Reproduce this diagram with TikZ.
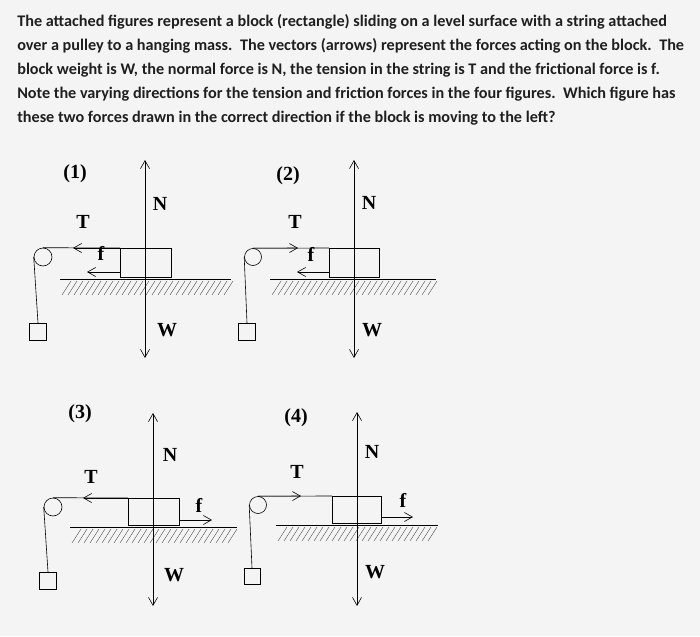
\documentclass[tikz,border=0pt]{standalone}
\usepackage{fontspec}
\setmainfont{Liberation Serif}
\newfontfamily\para{Carlito}
\usetikzlibrary{arrows.meta}
\begin{document}
\begin{tikzpicture}[x=1pt,y=-1pt,line width=0.6pt,
  lbl/.style={font=\bfseries\fontsize{20}{20}\selectfont},
  frc/.style={-{Straight Barb[length=8pt,width=9pt]}},
  ptxt/.style={anchor=base west,inner sep=0,font=\para\bfseries\fontsize{16.2}{18}\selectfont,text=black!88},
  blk/.style={draw}]
\fill[gray!9] (0,0) rectangle (700,636);
\useasboundingbox (0,0) rectangle (700,636);
\node[ptxt] (l1) at (17,27) {The attached figures represent a block (rectangle) sliding on a level surface with a string attached};
\node[ptxt] (l2) at (17,51) {over a pulley to a hanging mass.\, The vectors (arrows) represent the forces acting on the block.\, The};
\node[ptxt] (l3) at (17,75) {block weight is W, the normal force is N, the tension in the string is T and the frictional force is f.};
\node[ptxt] (l4) at (17,99) {Note the varying directions for the tension and friction forces in the four figures.\, Which figure has};
\node[ptxt] (l5) at (17,123) {these two forces drawn in the correct direction if the block is moving to the left?};
% ---------- figure 1
\draw (60,279) -- (231,279); \foreach \hx in {62,68,...,226}{\draw[gray!60!black,thin] (\hx,295) -- (\hx+9,281);}
\node[blk,minimum width=51pt,minimum height=29pt,anchor=north west] (b1) at (120,248) {};
\node[draw,circle,minimum size=18pt,inner sep=0] (p1) at (43,257) {};
\node[draw,minimum size=17pt,inner sep=0,anchor=north] (m1) at (38,323) {};
\draw (p1.west) -- (m1.north);
\coordinate (t1) at (73,248); \coordinate (f1) at (87,272);
\draw (p1.north) -- (b1.north west);
\draw[frc] (b1.north west) -- (t1);
\draw[frc] (120,272) -- (f1);
\coordinate (n1) at (145,160); \coordinate (w1) at (145,358);
\draw[frc] (145,263) -- (n1); \draw[frc] (145,263) -- (w1);
\node[lbl] at (75,174) {(1)}; \node[lbl] at (83,222) {T}; \node[lbl] at (101,253) {f};
\node[lbl] at (160,204) {N}; \node[lbl] at (167,330) {W};
% ---------- figure 2
\draw (270,279) -- (436,279); \foreach \hx in {272,278,...,430}{\draw[gray!60!black,thin] (\hx,295) -- (\hx+9,281);}
\node[blk,minimum width=50pt,minimum height=29pt,anchor=north west] (b2) at (329,248) {};
\node[draw,circle,minimum size=17pt,inner sep=0] (p2) at (253,257) {};
\node[draw,minimum size=17pt,inner sep=0,anchor=north] (m2) at (247,323) {};
\draw (p2.west) -- (m2.north);
\coordinate (t2) at (298,248); \coordinate (f2) at (297,272);
\draw (p2.north) -- (b2.north west);
\draw[frc] (p2.north) -- (t2);
\draw[frc] (329,272) -- (f2);
\coordinate (n2) at (354,160); \coordinate (w2) at (354,358);
\draw[frc] (354,263) -- (n2); \draw[frc] (354,263) -- (w2);
\node[lbl] at (288,176) {(2)}; \node[lbl] at (295,222) {T}; \node[lbl] at (311,254) {f};
\node[lbl] at (369,203) {N}; \node[lbl] at (372,330) {W};
% ---------- figure 3
\draw (70,527) -- (237,527); \foreach \hx in {72,78,...,230}{\draw[gray!60!black,thin] (\hx,543) -- (\hx+9,529);}
\node[blk,minimum width=51pt,minimum height=27pt,anchor=north west] (b3) at (128,498) {};
\node[draw,circle,minimum size=18pt,inner sep=0] (p3) at (53,507) {};
\node[draw,minimum size=17pt,inner sep=0,anchor=north] (m3) at (48,572) {};
\draw (p3.west) -- (m3.north);
\coordinate (t3) at (83,498); \coordinate (f3) at (212,520);
\draw (p3.north) -- (b3.north west);
\draw[frc] (b3.north west) -- (t3);
\draw[frc] (179,520) -- (f3);
\coordinate (n3) at (153,413); \coordinate (w3) at (153,606);
\draw[frc] (153,512) -- (n3); \draw[frc] (153,512) -- (w3);
\node[lbl] at (80,414) {(3)}; \node[lbl] at (91,477) {T}; \node[lbl] at (199,505) {f};
\node[lbl] at (170,455) {N}; \node[lbl] at (174,575) {W};
% ---------- figure 4
\draw (276,525) -- (438,525); \foreach \hx in {278,284,...,431}{\draw[gray!60!black,thin] (\hx,541) -- (\hx+9,527);}
\node[blk,minimum width=49pt,minimum height=27pt,anchor=north west] (b4) at (332,496) {};
\node[draw,circle,minimum size=17pt,inner sep=0] (p4) at (258,505) {};
\node[draw,minimum size=16pt,inner sep=0,anchor=north] (m4) at (252,568) {};
\draw (p4.west) -- (m4.north);
\coordinate (t4) at (301,496); \coordinate (f4) at (413,517);
\draw (p4.north) -- (b4.north west);
\draw[frc] (p4.north) -- (t4);
\draw[frc] (381,517) -- (f4);
\coordinate (n4) at (357,412); \coordinate (w4) at (357,606);
\draw[frc] (357,510) -- (n4); \draw[frc] (357,510) -- (w4);
\node[lbl] at (296,418) {(4)}; \node[lbl] at (297,472) {T}; \node[lbl] at (403,500) {f};
\node[lbl] at (372,452) {N}; \node[lbl] at (375,572) {W};
\end{tikzpicture}
\end{document}
